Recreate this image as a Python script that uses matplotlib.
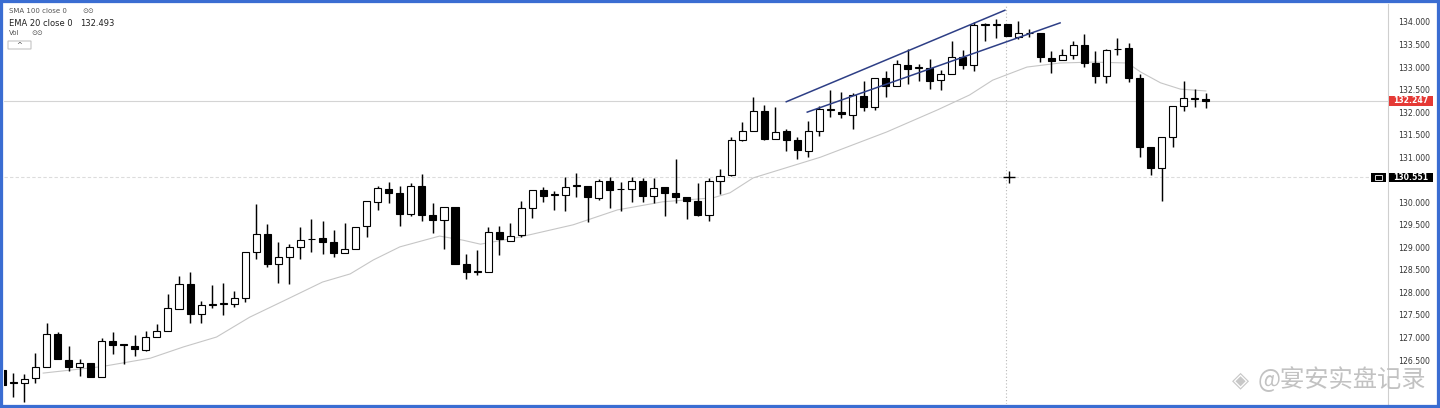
import matplotlib
matplotlib.use('Agg')
import matplotlib.pyplot as plt
from matplotlib.patches import Rectangle, FancyBboxPatch
import matplotlib.transforms as mtransforms

# ---------------- data ----------------
opens = [126.28, 126.02, 125.99, 126.10, 126.35, 127.08, 126.50, 126.35, 126.43, 126.12,
         126.92, 126.84, 126.81, 126.72, 127.01, 127.14, 127.63, 128.19, 127.52, 127.73,
         127.75, 127.74, 127.87, 128.90, 129.30, 128.63, 128.79, 129.01, 129.18, 129.21,
         129.12, 128.87, 128.96, 129.47, 130.01, 130.29, 130.21, 129.74, 130.36, 129.72,
         129.61, 129.89, 128.63, 128.45, 128.45, 129.34, 129.14, 129.27, 129.87, 130.27,
         130.16, 130.16, 130.36, 130.36, 130.10, 130.47, 130.29, 130.29, 130.47, 130.14,
         130.34, 130.21, 130.12, 130.03, 129.72, 130.47, 130.61, 131.38, 131.58, 132.03,
         131.40, 131.58, 131.38, 131.14, 131.58, 132.05, 132.00, 131.94, 132.36, 132.11,
         132.76, 132.58, 133.05, 132.98, 132.98, 132.71, 132.85, 133.22, 133.05, 133.93,
         133.93, 133.96, 133.67, 133.76, 133.76, 133.20, 133.16, 133.27, 133.49, 133.09,
         132.80, 133.40, 133.42, 132.76, 131.23, 130.76, 131.45, 132.14, 132.29, 132.29]
highs = [126.37, 126.21, 126.19, 126.66, 127.32, 127.12, 126.81, 126.52, 126.43, 126.99,
         127.12, 126.85, 127.05, 127.14, 127.30, 127.96, 128.36, 128.45, 127.81, 128.16,
         128.21, 128.03, 128.90, 129.96, 129.52, 129.12, 129.07, 129.45, 129.63, 129.58,
         129.39, 129.54, 129.45, 130.03, 130.36, 130.45, 130.36, 130.43, 130.63, 129.98,
         129.89, 129.89, 128.85, 128.94, 129.45, 129.47, 129.54, 130.03, 130.27, 130.34,
         130.25, 130.56, 130.65, 130.36, 130.52, 130.56, 130.45, 130.56, 130.54, 130.54,
         130.34, 130.96, 130.12, 130.43, 130.54, 130.74, 131.45, 131.78, 132.34, 132.16,
         132.11, 131.63, 131.45, 131.80, 132.14, 132.49, 132.45, 132.42, 132.69, 132.76,
         132.91, 133.16, 133.40, 133.07, 133.18, 132.94, 133.58, 133.38, 134.00, 133.98,
         134.07, 133.96, 134.02, 133.84, 133.76, 133.36, 133.40, 133.58, 133.73, 133.36,
         133.40, 133.64, 133.53, 132.85, 131.23, 131.45, 132.14, 132.69, 132.51, 132.42]
lows = [125.92, 125.68, 125.57, 125.99, 126.35, 126.52, 126.26, 126.14, 126.12, 126.12,
        126.63, 126.41, 126.59, 126.70, 127.01, 127.14, 127.63, 127.32, 127.32, 127.65,
        127.50, 127.68, 127.79, 128.74, 128.56, 128.21, 128.19, 128.74, 128.90, 128.85,
        128.79, 128.87, 128.96, 129.23, 129.83, 129.98, 129.47, 129.70, 129.58, 129.32,
        128.96, 128.63, 128.30, 128.39, 128.45, 128.83, 129.14, 129.23, 129.65, 130.01,
        129.83, 129.81, 130.12, 129.56, 130.05, 129.87, 129.81, 130.01, 130.01, 129.98,
        129.70, 129.98, 129.63, 129.70, 129.58, 130.18, 130.58, 131.36, 131.58, 131.38,
        131.40, 131.14, 130.96, 131.00, 131.47, 131.89, 131.87, 131.63, 132.03, 132.05,
        132.34, 132.58, 132.62, 132.69, 132.51, 132.49, 132.85, 132.96, 132.91, 133.58,
        133.64, 133.69, 133.62, 133.67, 133.11, 132.87, 133.16, 133.18, 133.00, 132.65,
        132.65, 133.27, 132.67, 131.00, 130.61, 130.03, 131.23, 132.03, 132.11, 132.09]
closes = [125.95, 126.00, 126.08, 126.35, 127.08, 126.52, 126.35, 126.43, 126.12, 126.92,
          126.83, 126.83, 126.74, 127.01, 127.14, 127.65, 128.19, 127.52, 127.72, 127.74,
          127.76, 127.87, 128.90, 129.30, 128.63, 128.79, 129.01, 129.16, 129.19, 129.12,
          128.87, 128.96, 129.45, 130.03, 130.32, 130.21, 129.74, 130.36, 129.72, 129.61,
          129.89, 128.63, 128.45, 128.46, 129.34, 129.19, 129.25, 129.87, 130.27, 130.14,
          130.17, 130.34, 130.37, 130.12, 130.47, 130.27, 130.30, 130.47, 130.14, 130.32,
          130.21, 130.12, 130.03, 129.72, 130.47, 130.58, 131.38, 131.58, 132.03, 131.40,
          131.56, 131.38, 131.16, 131.58, 132.07, 132.06, 131.96, 132.38, 132.11, 132.76,
          132.58, 133.07, 132.96, 132.99, 132.69, 132.85, 133.22, 133.05, 133.93, 133.94,
          133.94, 133.69, 133.76, 133.75, 133.22, 133.13, 133.27, 133.49, 133.09, 132.80,
          133.38, 133.39, 132.76, 131.23, 130.76, 131.45, 132.14, 132.31, 132.30, 132.25]

# EMA 20 read at sample bars (bar index, price)
ema_idx = [3.7, 8.9, 13.4, 16.4, 19.4, 22.4, 25.8, 29.0, 31.5, 33.6, 36.0, 39.6, 41.7,
           43.3, 46.9, 51.7, 55.7, 59.8, 64.4, 65.9, 68.0, 74.1, 80.1, 84.7, 87.6, 89.7,
           92.8, 95.8, 98.8, 101.9, 103.1, 104.9, 106.7, 109.0]
ema_val = [126.21, 126.35, 126.54, 126.79, 127.01, 127.45, 127.85, 128.23, 128.41, 128.72,
           129.01, 129.25, 129.16, 129.07, 129.23, 129.50, 129.83, 130.01, 130.10, 130.21,
           130.54, 131.00, 131.56, 132.05, 132.38, 132.71, 133.00, 133.09, 133.11, 133.09,
           132.89, 132.65, 132.51, 132.47]

# rising wedge trendlines (bar index, price)
upper_idx = [71.0, 90.8]
upper_val = [132.23, 134.26]
lower_idx = [72.9, 95.8]
lower_val = [132.00, 133.98]

price_ticks = [126.5, 127.0, 127.5, 128.0, 128.5, 129.0, 129.5, 130.0, 130.5,
               131.0, 131.5, 132.0, 132.5, 133.0, 133.5, 134.0]
last_price = 132.247
last_label = "132.247"
cross_price = 130.551
cross_label = "130.551"
cross_bar = 90.9

legend_line1 = "SMA 100 close 0"
legend_line2 = "EMA 20 close 0"
legend_value2 = "132.493"
legend_line3 = "Vol"
watermark = "@宴安实盘记录"

# ---------------- figure ----------------
W, H = 1440, 408
fig = plt.figure(figsize=(W / 100, H / 100), dpi=100)
fig.patch.set_facecolor('white')

def fx(px):
    return px / W

def fy(py):
    return 1 - py / H

ax = fig.add_axes([fx(4), fy(404), fx(1388) - fx(4), fy(4) - fy(404)])
ax.set_facecolor('white')
ax.set_xlim(0.15, 125.5)
ax.set_ylim(125.524, 134.399)

# reference lines
ax.axhline(last_price, color='#d4d4d4', lw=0.8, zorder=1)
ax.axhline(cross_price, color='#dcdcdc', lw=0.8, ls=(0, (3, 2)), zorder=1)
ax.axvline(cross_bar, color='#b8b8b8', lw=0.8, ls=(0, (1, 2)), zorder=1)

# EMA
ax.plot(ema_idx, ema_val, color='#c6c6c6', lw=0.8, zorder=2)

# candles
bw = 0.64
for i, (o, h, l, c) in enumerate(zip(opens, highs, lows, closes)):
    ax.vlines(i, l, h, color='black', lw=1.05, zorder=3)
    up = c >= o
    bottom = min(o, c)
    height = max(abs(c - o), 0.015)
    ax.add_patch(Rectangle((i - bw / 2, bottom), bw, height,
                           facecolor='white' if up else 'black',
                           edgecolor='black', lw=0.8, zorder=4))

# trendlines
ax.plot(upper_idx, upper_val, color='#2e3f86', lw=1.1, zorder=5)
ax.plot(lower_idx, lower_val, color='#2e3f86', lw=1.1, zorder=5)

# crosshair cursor
ax.plot([cross_bar + 0.3], [cross_price], marker='+', color='black',
        markersize=9, mew=1.0, zorder=6)

# axes styling
for s in ['top', 'left', 'bottom']:
    ax.spines[s].set_visible(False)
ax.spines['right'].set_color('#cfcfcf')
ax.spines['right'].set_linewidth(0.8)
ax.set_xticks([])
ax.yaxis.tick_right()
ax.set_yticks(price_ticks)
# the 130.500 level is covered by the crosshair price label in the reference
ax.set_yticklabels(["" if abs(t - cross_price) < 0.1 else f"{t:.3f}" for t in price_ticks])
ax.tick_params(axis='y', length=0, pad=7.2, labelsize=5.6, labelcolor='#333333')

# price labels on the scale
bt = mtransforms.blended_transform_factory(fig.transFigure, ax.transData)
box_h = 0.21
ax.add_patch(Rectangle((fx(1389), last_price - box_h / 2), fx(1433) - fx(1389), box_h,
                       transform=bt, facecolor='#e53935', edgecolor='none',
                       clip_on=False, zorder=10))
ax.text(fx(1411), last_price, last_label, transform=bt, ha='center', va='center',
        fontsize=5.6, color='white', fontweight='bold', zorder=11, clip_on=False)
ax.add_patch(Rectangle((fx(1389), cross_price - box_h / 2), fx(1433) - fx(1389), box_h,
                       transform=bt, facecolor='black', edgecolor='none',
                       clip_on=False, zorder=10))
ax.text(fx(1411), cross_price, cross_label, transform=bt, ha='center', va='center',
        fontsize=5.6, color='white', fontweight='bold', zorder=11, clip_on=False)
ax.add_patch(Rectangle((fx(1371), cross_price - box_h / 2), fx(1386) - fx(1371), box_h,
                       transform=bt, facecolor='black', edgecolor='none',
                       clip_on=False, zorder=10))
ax.add_patch(Rectangle((fx(1375), cross_price - box_h / 4), fx(1382) - fx(1375), box_h / 2,
                       transform=bt, facecolor='none', edgecolor='white', lw=0.6,
                       clip_on=False, zorder=11))

# legend (top-left)
fig.text(fx(9), fy(11), legend_line1, fontsize=5, color='#555555', va='center')
fig.text(fx(82), fy(11), "⊙⊙", fontsize=5, color='#555555', va='center')
fig.text(fx(9), fy(23), legend_line2, fontsize=6, color='#222222', va='center')
fig.text(fx(80), fy(23), legend_value2, fontsize=6, color='#222222', va='center')
fig.text(fx(9), fy(33), legend_line3, fontsize=5, color='#555555', va='center')
fig.text(fx(31), fy(33), "⊙⊙", fontsize=5, color='#555555', va='center')
fig.patches.append(FancyBboxPatch((fx(8), fy(49)), fx(23), fy(41) - fy(49),
                                  boxstyle='round,pad=0.0', transform=fig.transFigure,
                                  facecolor='white', edgecolor='#bdbdbd', lw=0.7))
fig.text(fx(19.5), fy(45), "^", fontsize=5, color='#444444', ha='center', va='center')

# watermark
fig.text(fx(1232), fy(380), "◈", fontsize=16, color='#c8c8c8', ha='left', va='center')
fig.text(fx(1258), fy(380), watermark, fontsize=17.5, color='#c2c2c2', ha='left',
         va='center', family=['Noto Sans CJK SC', 'DejaVu Sans'])

# blue frame
fig.patches.append(Rectangle((0, 0), 1, 1, transform=fig.transFigure, fill=False,
                             edgecolor='#3a6dd2', lw=4.5))

fig.savefig('out.png', dpi=100, facecolor='white')
